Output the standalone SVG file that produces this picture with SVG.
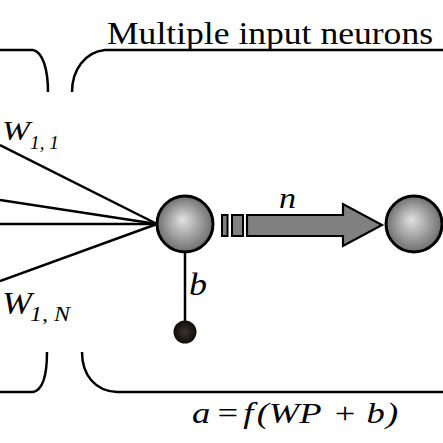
<svg xmlns="http://www.w3.org/2000/svg" width="443" height="443" viewBox="0 0 443 443">
<style>
.ln{fill:none;stroke:#000;stroke-width:2.5}
.tx{font-family:"Liberation Serif","Times New Roman",serif;fill:#000}
.it{font-style:italic}
.nd{stroke:#000;stroke-width:3;fill:url(#g)}
</style>
<defs>
<radialGradient id="g" cx="0.5" cy="0.5" r="0.5" fx="0.45" fy="0.42">
<stop offset="0" stop-color="#e2e2e2"/>
<stop offset="1" stop-color="#6e6e6e"/>
</radialGradient>
<radialGradient id="d" cx="0.5" cy="0.5" r="0.5">
<stop offset="0" stop-color="#3a352c"/>
<stop offset="1" stop-color="#0e0c08"/>
</radialGradient>
</defs>
<rect width="443" height="443" fill="#fff"/>
<g id="brackets">
<path class="ln" d="M0,50 H33 C43,52 48,70 48,92"/>
<path class="ln" d="M72,92 C72,70 85,52 105,50 H443"/>
<path class="ln" d="M47,352 C47,375 43,390 33,392 H0"/>
<path class="ln" d="M82,352 C82,375 95,391 117,392 H443"/>
</g>
<text class="tx" x="107" y="44" font-size="32" textLength="326" lengthAdjust="spacingAndGlyphs">Multiple input neurons</text>
<g id="connectors">
<line class="ln" x1="0" y1="145" x2="157" y2="224"/>
<line class="ln" x1="0" y1="200" x2="157" y2="224"/>
<line class="ln" x1="0" y1="224" x2="157" y2="224"/>
<line class="ln" x1="0" y1="281" x2="157" y2="224"/>
<line class="ln" x1="185" y1="252" x2="185" y2="330"/>
<rect x="222" y="215" width="5.5" height="21" fill="#808080" stroke="#000" stroke-width="2"/>
<rect x="232" y="215" width="11" height="21" fill="#808080" stroke="#000" stroke-width="2"/>
<polygon points="247,215 343,215 343,204 382,225 343,246 343,236 247,236" fill="#808080" stroke="#000" stroke-width="2.2" stroke-linejoin="miter"/>
</g>
<g id="neuron1"><circle class="nd" cx="185" cy="224" r="28"/></g>
<g id="neuron2"><circle class="nd" cx="414" cy="224" r="28"/></g>
<g id="bias"><circle cx="185" cy="332" r="11.5" fill="url(#d)"/></g>
<g id="labels">
<text class="tx it" x="2" y="140" font-size="27" textLength="28" lengthAdjust="spacingAndGlyphs">W</text>
<text class="tx it" x="30" y="149" font-size="18" textLength="29" lengthAdjust="spacingAndGlyphs">1, 1</text>
<text class="tx it" x="2" y="314" font-size="31" textLength="30" lengthAdjust="spacingAndGlyphs">W</text>
<text class="tx it" x="30" y="321" font-size="21" textLength="40" lengthAdjust="spacingAndGlyphs">1, N</text>
<text class="tx it" x="279" y="208" font-size="30" textLength="17" lengthAdjust="spacingAndGlyphs">n</text>
<text class="tx it" x="189" y="295" font-size="32" textLength="18" lengthAdjust="spacingAndGlyphs">b</text>
<text class="tx" font-size="30" transform="translate(192,423) scale(1.22,1)"><tspan class="it" x="0">a</tspan><tspan x="21">=</tspan><tspan class="it" x="42">f</tspan><tspan class="it" x="53">(</tspan><tspan class="it" x="63">W</tspan><tspan class="it" x="88">P</tspan><tspan x="117">+</tspan><tspan class="it" x="143">b</tspan><tspan class="it" x="159">)</tspan></text>
</g>
</svg>
